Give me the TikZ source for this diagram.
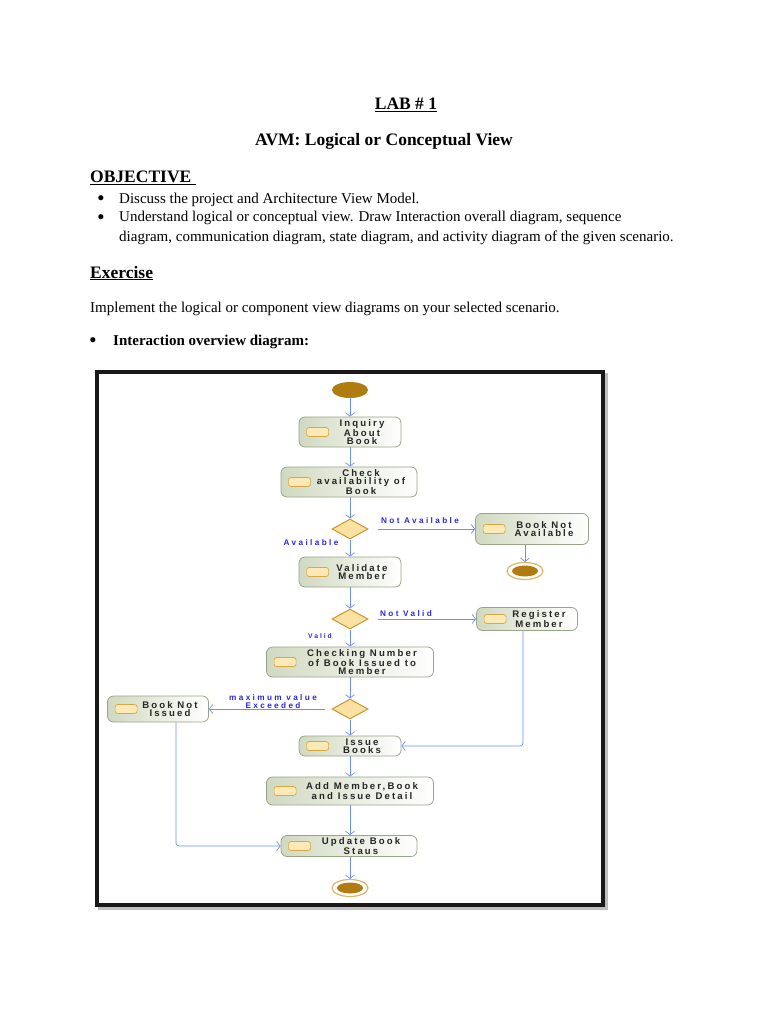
\documentclass[tikz,border=0pt]{standalone}
\usepackage{fontspec}
\setmainfont{Liberation Serif}
\newfontfamily\nodefont[LetterSpace=22]{Liberation Sans Bold}
\newfontfamily\labfont[LetterSpace=29]{Liberation Sans Bold}
\usetikzlibrary{arrows.meta,shapes.geometric}
\definecolor{goldd}{HTML}{B07C12}
\definecolor{goldl}{HTML}{DDB769}
\definecolor{boxl}{HTML}{D0D9C0}
\definecolor{boxb}{HTML}{98A688}
\definecolor{iconf}{HTML}{FDE9B6}
\definecolor{icond}{HTML}{D8A848}
\definecolor{diaf}{HTML}{FCE2A2}
\definecolor{diad}{HTML}{C9962C}
\definecolor{connc}{HTML}{6E8EF8}
\definecolor{labc}{HTML}{2A2ADA}
\tikzset{
  body/.style={inner sep=0pt, font=\fontsize{15}{18}\selectfont},
  bul/.style={inner sep=0pt, font=\bfseries\fontsize{19}{18}\selectfont},
  head/.style={inner sep=0pt, font=\bfseries\fontsize{17.5}{20}\selectfont},
  actbox/.style={draw=boxb, line width=0.8pt, rounded corners=6pt, left color=boxl, right color=white, inner sep=0pt},
  acticon/.style={draw=icond, fill=iconf, line width=0.7pt, rounded corners=2.5pt, minimum width=22pt, minimum height=9pt, inner sep=0pt},
  acttext/.style={inner sep=0pt, align=center, font=\nodefont\fontsize{9.6}{7.9}\selectfont, text=black!85},
  dec/.style={shape=diamond, draw=diad, fill=diaf, line width=1pt, minimum width=36pt, minimum height=20pt, inner sep=0pt},
  startdot/.style={shape=ellipse, fill=goldd, minimum width=36pt, minimum height=16pt, inner sep=0pt},
  endring/.style={shape=ellipse, draw=goldl, line width=1.2pt, fill=white, minimum width=36pt, minimum height=17pt, inner sep=0pt},
  enddot/.style={shape=ellipse, fill=goldd, minimum width=26pt, minimum height=11pt, inner sep=0pt},
  conn/.style={draw=connc, line width=0.7pt, -{Straight Barb[length=3.5pt,width=9pt]}},
  lab/.style={inner sep=0pt, align=center, text=labc, font=\labfont\fontsize{8.2}{8}\selectfont}
}
\newcommand\act[6]{%
  \node[actbox, minimum width=#4pt, minimum height=#5pt] (#1) at (#2,#3) {};
  \node[acticon] (#1i) at ([xshift=19pt]#1.west) {};
  \node[acttext] (#1t) at ([xshift=12pt]#1.center) {#6};
}
\begin{document}
\begin{tikzpicture}[x=1pt,y=-1pt]
\useasboundingbox (0,0) rectangle (768,1024);
\fill[white] (0,0) rectangle (768,1024);
% header text
\node[head, anchor=base] (lab) at (406,110) {\underline{LAB \# 1}};
\node[head, anchor=base] (avm) at (384,146) {AVM: Logical or Conceptual View};
\node[head, anchor=base west] (obj) at (90,183) {\underline{OBJECTIVE\ }};
\node[bul, anchor=base] (b1) at (101,205) {\textbullet};
\node[body, anchor=base west] (t1) at (119,204) {Discuss the project and Architecture View Model.};
\node[bul, anchor=base] (b2) at (101,223) {\textbullet};
\node[body, anchor=base west] (t2) at (119,222) {Understand logical or conceptual view. Draw Interaction overall diagram, sequence};
\node[body, anchor=base west] (t3) at (119,241) {diagram, communication diagram, state diagram, and activity diagram of the given scenario.};
\node[head, anchor=base west] (ex) at (90,278) {\underline{Exercise}};
\node[body, anchor=base west] (imp) at (90,312) {Implement the logical or component view diagrams on your selected scenario.};
\node[bul, anchor=base] (b3) at (93,346) {\textbullet};
\node[body, anchor=base west, font=\bfseries\fontsize{15}{18}\selectfont] (iod) at (113,345) {Interaction overview diagram:};
% frame
\draw[line width=4pt, black!25] (100,375) rectangle (606,908);
\fill[white] (97,372) rectangle (603,905);
\draw[line width=4pt, black!90] (97,372) rectangle (603,905);
% diagram
\node[startdot] (st) at (350,390) {};
\act{inq}{350}{432}{102}{30}{Inquiry\\About\\Book}
\act{chk}{349}{482}{136}{30}{Check\\availability of\\Book}
\node[dec] (d1) at (350,529) {};
\act{bna}{532}{529}{113}{31}{Book Not\\Available}
\node[endring] (e1) at (525,571) {};
\node[enddot] (e1i) at (525,571) {};
\act{val}{350}{572}{102}{30}{Validate\\Member}
\node[dec] (d2) at (350,619) {};
\act{reg}{527}{619}{101}{23}{Register\\Member}
\act{cnt}{350}{662}{167}{30}{Checking Number\\of Book Issued to\\Member}
\node[dec] (d3) at (350,709) {};
\act{bni}{158}{709}{101}{26}{Book Not\\Issued}
\act{iss}{350}{746}{102}{20}{Issue\\Books}
\act{add}{350}{791}{167}{28}{Add Member,Book\\and Issue Detail}
\act{upd}{349}{846}{136}{21}{Update Book\\Staus}
\node[endring] (e2) at (350,888) {};
\node[enddot] (e2i) at (350,888) {};
% labels
\node[lab] (lna) at (420,521) {Not Available};
\node[lab] (lav) at (311,543) {Available};
\node[lab] (lnv) at (406,614) {Not Valid};
\node[lab, font=\labfont\fontsize{6.8}{7}\selectfont] (lv) at (320,636) {Valid};
\node[lab] (lmx) at (273,702) {maximum value\\Exceeded};
% connectors
\draw[conn] (st) -- (inq);
\draw[conn] (inq) -- (chk.north -| inq);
\draw[conn] (chk.south -| d1) -- (d1);
\draw[conn, shorten <=9pt] (d1) -- (bna);
\draw[conn] (e1 |- bna.south) -- (e1);
\draw[conn] (d1) -- (val);
\draw[conn] (val) -- (d2);
\draw[conn, shorten <=9pt] (d2) -- (reg);
\draw[conn] (d2) -- (cnt);
\draw[conn] (cnt) -- (d3);
\draw[conn, shorten <=7pt] (d3) -- (bni);
\draw[conn] (d3) -- (iss);
\draw[conn, rounded corners=3pt] ([xshift=-4pt]reg.south) |- (iss.east);
\draw[conn] (iss) -- (add);
\draw[conn] (add.south) -- (upd.north -| add.south);
\draw[conn, rounded corners=3pt] ([xshift=18pt]bni.south) |- (upd.west);
\draw[conn] (upd.south -| e2) -- (e2);
\end{tikzpicture}
\end{document}
